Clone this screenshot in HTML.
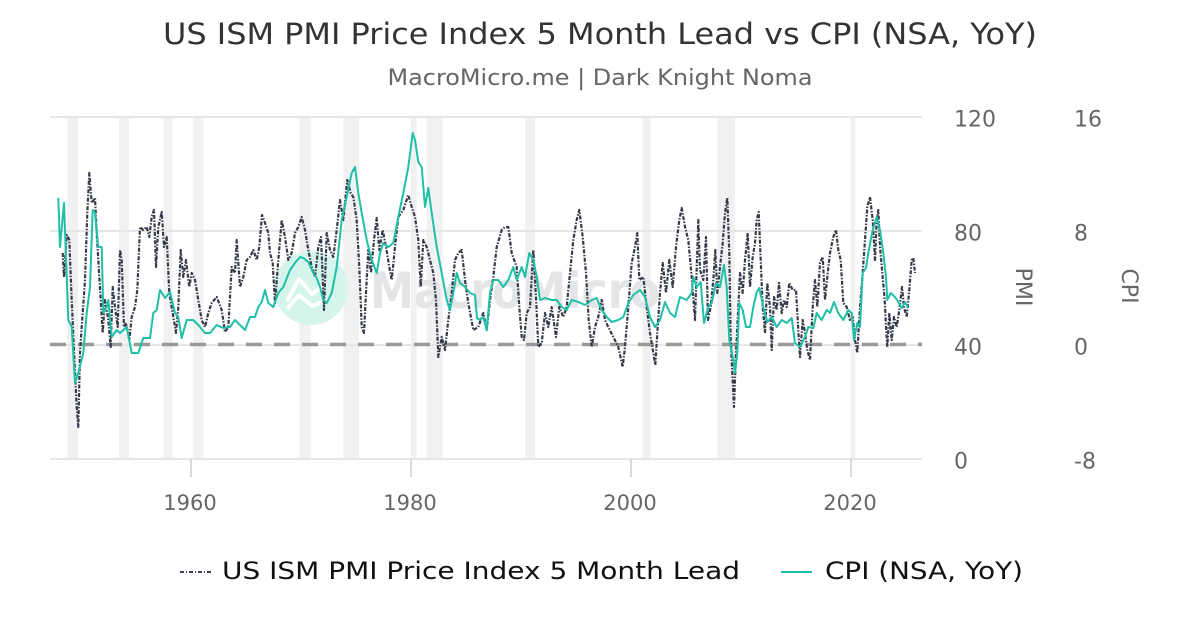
<!DOCTYPE html>
<html>
<head>
<meta charset="utf-8">
<style>
  html,body{margin:0;padding:0;background:#fff;}
  svg{display:block;}
  text{font-family:"DejaVu Sans","Liberation Sans",sans-serif;}
</style>
</head>
<body>
<svg width="1200" height="630" viewBox="0 0 1200 630" xmlns="http://www.w3.org/2000/svg">
  <rect x="0" y="0" width="1200" height="630" fill="#ffffff"/>

  <!-- Title -->
  <text x="600" y="44" font-size="29" fill="#333333" text-anchor="middle" textLength="874" lengthAdjust="spacingAndGlyphs">US ISM PMI Price Index 5 Month Lead vs CPI (NSA, YoY)</text>
  <text x="600" y="85" font-size="22" fill="#666666" text-anchor="middle" textLength="425" lengthAdjust="spacingAndGlyphs">MacroMicro.me | Dark Knight Noma</text>

  <!-- Recession bands -->
  <g fill="#f1f1f1">
    <rect x="67.3" y="117" width="11" height="342"/>
    <rect x="119" y="117" width="10" height="342"/>
    <rect x="163.5" y="117" width="9" height="342"/>
    <rect x="193.3" y="117" width="10" height="342"/>
    <rect x="299.3" y="117" width="11.4" height="342"/>
    <rect x="343.3" y="117" width="15.7" height="342"/>
    <rect x="411" y="117" width="5.7" height="342"/>
    <rect x="426.7" y="117" width="16" height="342"/>
    <rect x="525" y="117" width="10" height="342"/>
    <rect x="642.7" y="117" width="8" height="342"/>
    <rect x="717.3" y="117" width="17.7" height="342"/>
    <rect x="851" y="117" width="4" height="342"/>
  </g>

  <!-- Grid lines -->
  <g stroke="#e6e6e6" stroke-width="2">
    <line x1="50" y1="117" x2="922" y2="117"/>
    <line x1="50" y1="231" x2="922" y2="231"/>
    <line x1="50" y1="345" x2="922" y2="345"/>
    <line x1="50" y1="459" x2="922" y2="459"/>
  </g>
  <!-- x ticks -->
  <g stroke="#cccccc" stroke-width="1.5">
    <line x1="191" y1="459" x2="191" y2="477"/>
    <line x1="411" y1="459" x2="411" y2="477"/>
    <line x1="631" y1="459" x2="631" y2="477"/>
    <line x1="851" y1="459" x2="851" y2="477"/>
  </g>

  <!-- Watermark -->
  <circle cx="311" cy="288" r="37" fill="#d4f4ec"/>
  <polyline points="287,301 299,279 312,294 326,283" fill="none" stroke="#ffffff" stroke-width="4" stroke-linejoin="round"/>
  <polyline points="287,309 299,295 312,306 329,299" fill="none" stroke="#ffffff" stroke-width="4" stroke-linejoin="round"/>
  <text x="370" y="308" font-size="50" font-weight="bold" fill="#e4e5e7" textLength="290" lengthAdjust="spacingAndGlyphs">MacroMicro</text>

  <!-- Zero / 40 dashed line -->
  <line x1="50" y1="344.5" x2="922" y2="344.5" stroke="#999999" stroke-width="3.5" stroke-dasharray="16 12"/>

  <!-- PMI series -->
  <polyline fill="none" stroke="#363949" stroke-width="2.2" stroke-dasharray="4 1.5 1.5 1.5" stroke-linejoin="round"
    points="62.7,253 64,277 66.7,235 69.3,240 71.7,300 75,373 76.7,407 78.3,427 80,353 81.7,327 85,280 87.3,213 89.3,173 91.7,203 95,198 96.7,233 98.3,260 100.7,300 102.7,333 105,300 108.3,320 110.7,347 112.7,287 115,307 117.7,327 120,250 121.7,260 124,327 126,323 129.3,340 131.7,317 135,307 137.3,290 140,227 143.3,230 146.7,227 149.3,237 151.7,217 154,210 156,267 158.3,227 161.7,212 164,247 166.7,237 169.3,293 171.7,307 176,333 178.3,307 180.7,250 183.3,277 186,260 189.3,287 191.7,273 195,280 198.3,300 201.7,320 205,327 208.3,313 211.7,303 216.7,297 221.7,310 225,332 228.3,327 231.7,267 235,273 236.7,240 240,287 243.3,277 246.7,260 250,257 253.3,250 256.7,260 259.3,247 262,215 265,223 268.3,233 270,253 272.7,263 275,303 278.3,260 281.7,220 285,237 288.3,260 291.7,253 295,233 298.3,227 301.7,217 305,230 308.3,250 311.7,267 315,277 318.3,247 321,237 324,310 326.7,233 330,250 333.3,257 336.7,230 340,200 343.3,220 347.3,180 350.7,193 353.3,197 356.7,220 359.3,267 361.7,327 364,333 366,293 368.3,250 371,273 374,240 376.7,218 379.3,250 382.7,230 386,247 389.3,267 391.7,280 395,247 398.3,217 403.3,210 408.3,195 411.7,207 415,217 418.3,240 420.7,287 423.3,240 426.7,247 430,260 433.3,273 436,300 438.3,357 441.7,337 445,350 448.3,320 451.7,293 455,260 458.3,253 461.7,250 465,280 468.3,303 473.3,330 478.3,327 483.3,313 486.7,330 490,300 493.3,277 496.7,247 501.7,230 505,227 508.3,227 511.7,253 516.7,267 519.3,307 521.7,337 524,340 526.7,313 530,307 533.3,250 536,297 538.3,347 541.7,343 545,313 548.3,327 551.7,307 556,337 559.3,307 563.3,317 566.7,307 570,273 573.3,240 576.7,220 579.3,210 582.7,237 586,273 588.7,320 591.7,347 595,327 598.3,317 601.7,300 605,320 608.3,327 613.3,337 618.3,347 622.7,367 625,347 628.3,307 631.7,263 635,247 637.3,233 639.3,280 643.3,277 646.7,307 650,333 653.3,353 655.3,365 657.3,333 660,293 662.7,263 666,293 669.3,260 672.7,287 676,247 679.3,220 681.7,208 685,227 688.3,240 691.7,277 695,320 698.3,220 700,270 703.3,280 706,237 708,320 710.7,307 713.3,280 715.3,250 717.3,293 720,267 722.7,243 725,213 727.3,198 729.3,253 730.7,340 732.7,380 734,407 736,353 738.3,307 740,273 742.7,293 745,260 747.7,233 750,287 752.7,257 755,243 756.7,220 758.7,212 760.7,260 762.7,307 765,333 767.3,283 770,307 771.7,350 774,297 776.7,310 779,283 781.7,313 784,300 786.7,307 789.3,283 792.7,290 796,290 798.7,337 800,357 802.7,320 805,333 807.3,350 810,360 812.7,307 815,280 817.3,307 820,263 822.7,257 825,300 827.7,273 830,253 833.3,237 836,230 838.3,250 840.7,260 843.3,303 846.7,307 850,320 852.7,317 855,340 857.3,353 860,307 862.7,273 865,240 867.3,207 870,197 872.7,220 875,260 876.7,220 878.3,210 880,247 882.7,277 884.7,300 886,327 887.3,347 889.3,313 891.7,340 894,317 896.7,327 899.3,310 902,287 904,307 906.7,317 909.3,290 911.7,260 913.3,258 915,273"/>

  <!-- CPI series -->
  <polyline fill="none" stroke="#1fbfa8" stroke-width="2" stroke-linejoin="round"
    points="58.3,198 60,247 64,203 68.3,320 71.7,327 75,383 78.3,373 83.3,353 86.7,313 90,287 92.7,210 95,213 98.3,247 101.7,247 103.3,313 106.7,307 108.3,300 111.7,337 116.7,330 120,333 126.7,327 131.7,353 138.3,353 143.3,338 150,338 153.3,313 156.7,310 160,290 165,298 170,292 175,313 178.3,317 181.7,338 186.7,320 193.3,320 198.3,325 205,333 210,333 216.7,325 223.3,328 230,327 235,320 240,325 245,330 250,317 255,317 258.3,307 261.7,302 265,290 268.3,303 273.3,307 278.3,293 283.3,287 290,270 295,263 300,257 303.3,258 308.3,262 313.3,273 316.7,278 320,287 323.3,300 326.7,303 331.7,293 336.7,267 341.7,220 346.7,197 351.7,173 355,167 358.3,193 361.7,213 366.7,240 371.7,260 376.7,273 380,253 383.3,243 388.3,247 393.3,243 398.3,217 403.3,193 408.3,167 412.7,133 415,140 418.3,162 421.7,167 425,207 428.3,188 431.7,213 436.7,247 441.7,273 446.7,300 450,310 453.3,293 456.7,273 460,283 465,287 470,293 475,295 477,318 480,320 483.3,317 486.7,330 490,293 493.3,280 498.3,280 503.3,287 508.3,280 513.3,267 516.7,280 521.7,267 525,277 529.3,253 533.3,260 536.7,277 540,300 545,298 551.7,300 556.7,300 561.7,307 566.7,310 571.7,300 578.3,302 585,305 591.7,300 596.7,298 601.7,310 606.7,317 611.7,322 618.3,320 623.3,317 628.3,303 633.3,295 640,290 645,297 650,317 655,327 660,320 665,302 670,313 675,317 680,297 686.7,300 691.7,293 693.3,277 696.7,287 700.7,282 704,323 708.3,307 711.7,303 716,283 720,287 724,265 726.7,287 729.3,340 733.3,360 735,373 737.3,353 739.3,303 742.7,310 746,327 750,327 753.3,307 756.7,292 759.3,288 763.3,307 767.3,322 771.7,317 776.7,327 781.7,320 786.7,323 791.7,318 795,343 800,347 805,337 808.3,327 813.3,328 816.7,313 821.7,320 826.7,310 830,313 834,302 838.3,313 843.3,320 848.3,310 851.7,313 854,340 857.3,323 860,327 862.7,273 866,268 868.3,253 872.7,230 876.7,217 880,230 883.3,253 886,277 887.3,300 890.7,293 895,297 898.3,302 901.7,308 905,302 908.3,308"/>

  <!-- Right axis labels (PMI) -->
  <g font-size="22" fill="#666666">
    <text x="954" y="126.5">120</text>
    <text x="954" y="240.5">80</text>
    <text x="954" y="354.5">40</text>
    <text x="954" y="468.5">0</text>
  </g>
  <!-- Right axis labels (CPI) -->
  <g font-size="22" fill="#666666">
    <text x="1074" y="126.5">16</text>
    <text x="1074" y="240.5">8</text>
    <text x="1074" y="354.5">0</text>
    <text x="1074" y="468.5">-8</text>
  </g>
  <text x="0" y="0" font-size="22" fill="#666666" text-anchor="middle" transform="translate(1016,287) rotate(90)">PMI</text>
  <text x="0" y="0" font-size="22" fill="#666666" text-anchor="middle" transform="translate(1122,286) rotate(90)">CPI</text>

  <!-- X axis labels -->
  <g font-size="21" fill="#666666" text-anchor="middle">
    <text x="190" y="510">1960</text>
    <text x="410" y="510">1980</text>
    <text x="630" y="510">2000</text>
    <text x="850" y="510">2020</text>
  </g>

  <!-- Legend -->
  <line x1="180" y1="572" x2="211" y2="572" stroke="#3b3e4f" stroke-width="2" stroke-dasharray="4 2 1 2"/>
  <text x="222" y="579" font-size="24" fill="#111111" textLength="518" lengthAdjust="spacingAndGlyphs">US ISM PMI Price Index 5 Month Lead</text>
  <line x1="781" y1="572" x2="812" y2="572" stroke="#1fbfa8" stroke-width="2"/>
  <text x="825" y="579" font-size="24" fill="#111111" textLength="198" lengthAdjust="spacingAndGlyphs">CPI (NSA, YoY)</text>
</svg>
</body>
</html>
